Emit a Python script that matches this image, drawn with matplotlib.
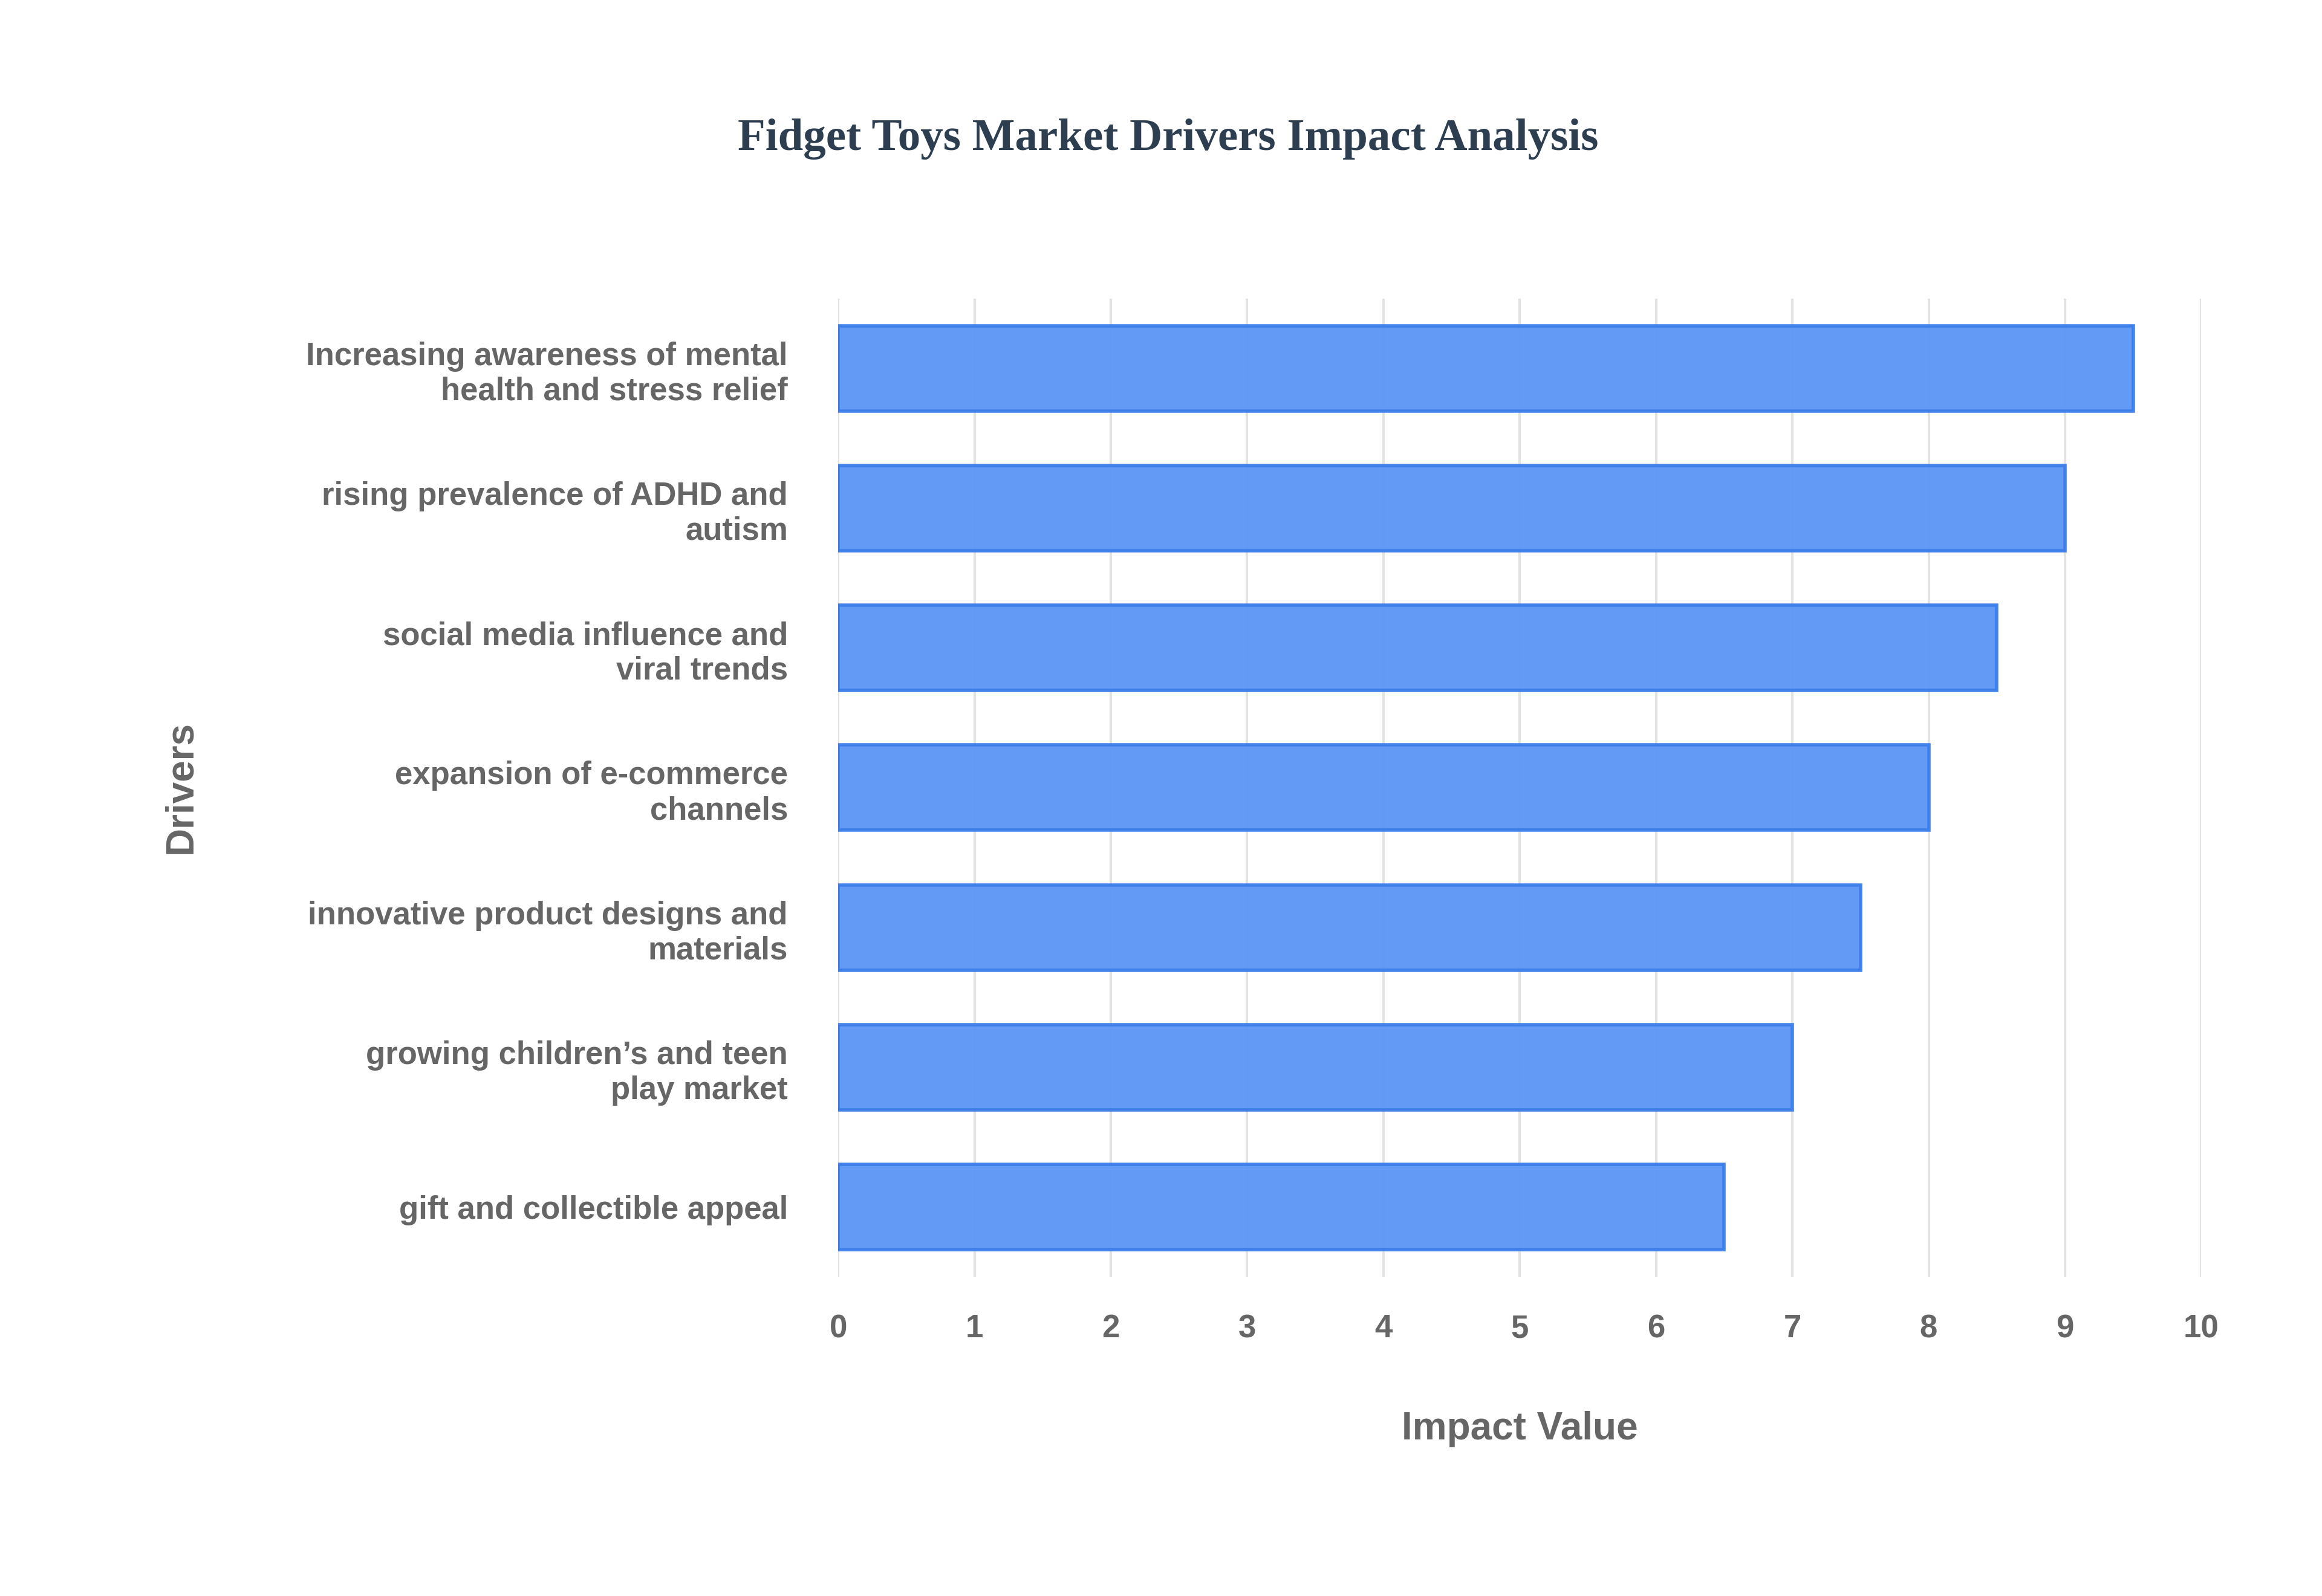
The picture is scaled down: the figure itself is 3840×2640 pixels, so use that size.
import matplotlib.pyplot as plt

drivers = ['Increasing awareness of mental\nhealth and stress relief',
           'rising prevalence of ADHD and\nautism',
           'social media influence and\nviral trends',
           'expansion of e-commerce\nchannels',
           'innovative product designs and\nmaterials',
           'growing children\u2019s and teen\nplay market',
           'gift and collectible appeal']
impact = [9.5, 9.0, 8.5, 8.0, 7.5, 7.0, 6.5]

fig = plt.figure(figsize=(19.2, 13.2), dpi=200)
ax = fig.add_axes([0.361, 0.20, 0.587, 0.613])

pos = list(range(len(drivers)))
ax.barh(pos, impact, height=0.61, color='#5b95f5', alpha=0.95,
        edgecolor='#3b7de8', linewidth=2, zorder=3)
ax.set_ylim(len(drivers) - 0.5, -0.5)
ax.set_xlim(0, 10)
ax.set_xticks(range(11))
ax.set_yticks(pos)
ax.set_yticklabels(drivers, ha='right')

lab = dict(family='Liberation Sans', weight='bold', color='#666666')
for t in ax.get_xticklabels() + ax.get_yticklabels():
    t.set_fontproperties('Liberation Sans')
    t.set_fontweight('bold')
    t.set_fontsize(19)
    t.set_color('#666666')
ax.tick_params(axis='y', length=0, pad=30)
ax.tick_params(axis='x', length=0, pad=22)
ax.grid(axis='x', color='#e3e3e3', linewidth=1.5, zorder=0)
for s in ax.spines.values():
    s.set_visible(False)

ax.set_xlabel('Impact Value', fontsize=23, labelpad=40, **lab)
fig.text(0.078, 0.507, 'Drivers', rotation=90, ha='center', va='center', fontsize=23, **lab)
fig.text(0.503, 0.913, 'Fidget Toys Market Drivers Impact Analysis', ha='center', va='center',
         fontsize=27, family='Liberation Serif', weight='bold', color='#2c3e50')

fig.savefig('out.png', dpi=200, facecolor='white')
